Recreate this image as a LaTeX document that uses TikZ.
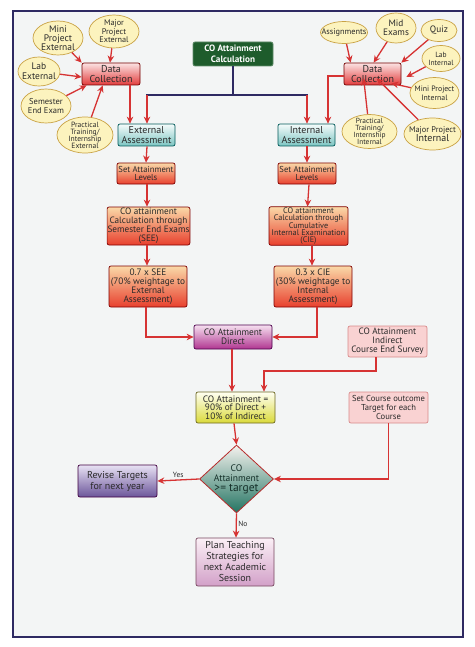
\documentclass[tikz,border=0pt]{standalone}
\usepackage{fontspec}
\setmainfont{PT Sans}
\usetikzlibrary{shapes.geometric,arrows.meta}
\definecolor{bgc}{HTML}{F3F5F5}
\definecolor{framec}{HTML}{2E2A62}
\definecolor{arrc}{HTML}{D63333}
\definecolor{hdrc}{HTML}{1E5C2C}
\definecolor{ellfill}{HTML}{FCF3BE}
\definecolor{elldraw}{HTML}{C9A244}
\definecolor{txtc}{HTML}{2A2A2A}
\definecolor{dcT}{HTML}{FBE3E3}\definecolor{dcB}{HTML}{E23C3C}
\definecolor{asT}{HTML}{F5FBFB}\definecolor{asB}{HTML}{7CC5C2}
\definecolor{orT}{HTML}{FAD9A8}\definecolor{orB}{HTML}{E8402E}
\definecolor{drT}{HTML}{F6E0F0}\definecolor{drB}{HTML}{B03590}
\definecolor{eqT}{HTML}{FFFFF2}\definecolor{eqB}{HTML}{DADA3A}
\definecolor{pkF}{HTML}{F9D2D2}\definecolor{pkD}{HTML}{D88A8A}
\definecolor{dmT}{HTML}{F4F2EE}\definecolor{dmB}{HTML}{237462}
\definecolor{dmTxt}{HTML}{16302A}
\definecolor{rvT}{HTML}{E8E2F4}\definecolor{rvB}{HTML}{6B559A}
\definecolor{plT}{HTML}{FBF0F6}\definecolor{plB}{HTML}{D2A0C8}
\tikzset{
  arr/.style={draw=arrc, line width=1.3pt, -{Stealth[length=7pt,width=6.5pt]}},
  hdrln/.style={draw=framec, line width=1.3pt},
  ell/.style={ellipse, draw=elldraw, line width=0.7pt, fill=ellfill, inner sep=-12pt, align=center, text=txtc},
  bx/.style={rectangle, rounded corners=2pt, line width=0.7pt, inner sep=0.5pt, align=center, text=txtc},
  hdr/.style={bx, fill=hdrc, draw=hdrc!70!white, text=white, font=\bfseries\fontsize{9.2}{11}\selectfont},
  dcbox/.style={bx, top color=dcT, bottom color=dcB, draw=red!45!black, font=\fontsize{10}{10}\selectfont},
  asbox/.style={bx, top color=asT, bottom color=asB, draw=teal!70!black, font=\fontsize{10}{10}\selectfont},
  orbox/.style={bx, top color=orT, bottom color=orB, draw=red!50!black},
  dirbox/.style={bx, top color=drT, bottom color=drB, draw=violet!60!black, font=\fontsize{9.3}{8.8}\selectfont},
  eqbox/.style={bx, top color=eqT, bottom color=eqB, draw=olive!70!black, font=\fontsize{9.3}{8.5}\selectfont},
  pkbox/.style={bx, fill=pkF, draw=pkD},
  dia/.style={diamond, aspect=1.08, inner sep=-12pt, line width=0.8pt, top color=dmT, bottom color=dmB, draw=arrc!85!black, align=center, text=dmTxt, font=\fontsize{9.5}{10}\selectfont},
  rvbox/.style={bx, top color=rvT, bottom color=rvB, draw=violet!50!black, font=\fontsize{10}{11}\selectfont},
  plbox/.style={bx, top color=plT, bottom color=plB, draw=magenta!40!black, font=\fontsize{10}{11}\selectfont},
  lbl/.style={font=\fontsize{7.5}{8}\selectfont, text=txtc, inner sep=1.5pt}
}
\begin{document}
\begin{tikzpicture}[x=1pt,y=-1pt]
\path[use as bounding box, fill=white] (0,0) rectangle (474,647);
\draw[framec, line width=2.5pt, fill=bgc] (13,11) rectangle (463,637);

% header
\node[hdr, minimum width=80, minimum height=24] (calc) at (233,54) {CO Attainment\\Calculation};

% left data collection
\node[dcbox, minimum width=58, minimum height=22] (dcL) at (111,74) {Data\\Collection};
\node[ell, minimum width=50, minimum height=34, font=\fontsize{9.5}{9}\selectfont] (miniE) at (58,38) {Mini\\Project\\External};
\node[ell, minimum width=50, minimum height=33, font=\fontsize{8.2}{8.5}\selectfont] (majE) at (114,31.5) {Major\\Project\\External};
\node[ell, minimum width=42, minimum height=29, font=\fontsize{9.5}{10}\selectfont] (labE) at (39,71.5) {Lab\\External};
\node[ell, minimum width=50, minimum height=34, font=\fontsize{8.5}{9}\selectfont] (semE) at (46,106) {Semester\\End Exam};
\node[ell, minimum width=56, minimum height=36, font=\fontsize{7.6}{7}\selectfont] (prE) at (85,135) {Practical\\Training/\\Internship\\External};

% right data collection
\node[dcbox, minimum width=57, minimum height=22] (dcR) at (372.5,74) {Data\\Collection};
\node[ell, minimum width=47, minimum height=22, font=\fontsize{8.3}{8.5}\selectfont] (asg) at (344,32.5) {Assignments};
\node[ell, minimum width=40, minimum height=30, font=\fontsize{9.3}{9}\selectfont] (mid) at (396,28) {Mid\\Exams};
\node[ell, minimum width=36, minimum height=22, font=\fontsize{9.3}{9}\selectfont] (quiz) at (439,30.5) {Quiz};
\node[ell, minimum width=38, minimum height=26, font=\fontsize{7.5}{8}\selectfont] (labI) at (441,58.5) {Lab\\Internal};
\node[ell, minimum width=49, minimum height=31, font=\fontsize{7.8}{9}\selectfont] (miniI) at (434.5,93) {Mini Project\\Internal};
\node[ell, minimum width=57, minimum height=32, font=\fontsize{8.3}{9.5}\selectfont] (majI) at (432.5,134) {Major Project\\{\fontsize{10}{10}\selectfont Internal}};
\node[ell, minimum width=55, minimum height=34, font=\fontsize{7.4}{7}\selectfont] (prI) at (369.5,131.5) {Practical\\Training/\\Internship\\Internal};

% assessments
\node[asbox, minimum width=57, minimum height=22] (ext) at (146.5,135) {External\\Assessment};
\node[asbox, minimum width=57, minimum height=22] (int) at (306.5,135) {Internal\\Assessment};

\node[orbox, minimum width=58, minimum height=21, font=\fontsize{8.6}{8}\selectfont] (salL) at (146,173.5) {Set Attainment\\Levels};
\node[orbox, minimum width=58, minimum height=21, font=\fontsize{8.6}{8}\selectfont] (salR) at (307,173.5) {Set Attainment\\Levels};

\node[orbox, minimum width=79, minimum height=38, font=\fontsize{9.2}{9}\selectfont] (see) at (148.5,226) {CO attainment\\Calculation through\\Semester End Exams\\(SEE)};
\node[orbox, minimum width=79, minimum height=38, font=\fontsize{8.2}{7.1}\selectfont] (cie) at (308.5,226) {CO attainment\\Calculation through\\Cumulative\\Internal Examination\\(CIE)};

\node[orbox, minimum width=78, minimum height=41, font=\fontsize{9.3}{9}\selectfont] (wsee) at (148,286.5) {0.7 x SEE\\(70\% weightage to\\External\\Assessment)};
\node[orbox, minimum width=78, minimum height=41, font=\fontsize{9.3}{9}\selectfont] (wcie) at (313,286.5) {0.3 x CIE\\(30\% weightage to\\Internal\\Assessment)};

\node[dirbox, minimum width=78, minimum height=24] (dir) at (233,337) {CO Attainment\\Direct};
\node[pkbox, minimum width=79, minimum height=31, font=\fontsize{9.2}{9}\selectfont] (ind) at (387.5,341.5) {CO Attainment\\Indirect\\Course End Survey};

\node[eqbox, minimum width=79, minimum height=31] (eq) at (235.5,407.5) {CO Attainment =\\90\% of Direct +\\10\% of Indirect};
\node[pkbox, minimum width=79, minimum height=31, font=\fontsize{8.6}{9}\selectfont] (tgt) at (388.5,407.5) {Set Course outcome\\Target for each\\Course};

\node[dia, minimum width=74, minimum height=68] (dec) at (236.5,479) {CO\\Attainment\\{\fontsize{11.5}{11}\selectfont >= target}};

\node[rvbox, minimum width=79, minimum height=32] (rev) at (117.5,481) {Revise Targets\\for next year};
\node[plbox, minimum width=78, minimum height=48] (plan) at (235,562) {Plan Teaching\\Strategies for\\next Academic\\Session};

% connectors top
\coordinate (jc) at (233,95);
\coordinate (jL) at (147,95);
\coordinate (jR) at (307,95);
\draw[hdrln] (calc.south) -- (jc);
\draw[hdrln, line cap=rect] (jL) -- (jR);
\draw[arr] (jL) -- ([xshift=0.5]ext.north);
\draw[arr] (jR) -- ([xshift=0.5]int.north);
\draw[arr] ([xshift=19]dcL.south) -- ([xshift=-16.5]ext.north);
\draw[arr] ([yshift=-2]dcR.west) -| ([xshift=21.5]int.north);

% ellipses into data collection
\draw[arr] (miniE) -- (dcL.north west);
\draw[arr] (majE) -- ([xshift=-1]dcL.north);
\draw[arr] (labE) -- ([yshift=-3]dcL.west);
\draw[arr] (semE) -- ([xshift=5]dcL.south west);
\draw[arr] (prE) -- ([xshift=21]dcL.south west);

\draw[arr] (asg) -- ([xshift=7]dcR.north west);
\draw[arr] (mid) -- ([xshift=30]dcR.north west);
\draw[arr] (quiz) -- (dcR.north east);
\draw[arr] (labI) -- ([shift={(5,3)}]dcR.east);
\draw[arr] (miniI) -- ([shift={(-10,-2)}]dcR.south east);
\draw[arr] (majI) -- ([shift={(33,-7)}]dcR.south west);
\draw[arr] (prI) -- ([shift={(20,-7)}]dcR.south west);

% columns
\draw[arr] ([xshift=0.5]ext.south) -- (salL.north);
\draw[arr] ([xshift=0.5]int.south) -- (salR.north);
\draw[arr] ([xshift=1]salL.south) -- ([xshift=-1.5]see.north);
\draw[arr] ([xshift=2]salR.south) -- ([xshift=0.5]see.north -| salR.south);
\draw[arr] ([xshift=-1.5]see.south) -- ([xshift=-1]wsee.north);
\draw[arr] ([xshift=3.5]cie.south) -- ([xshift=-1]wcie.north);

\draw[arr] ([xshift=-2]wsee.south) |- (dir.west);
\draw[arr] ([xshift=4]wcie.south) |- (dir.east);

\draw[arr] ([xshift=-1]dir.south) -- ([xshift=-3.5]eq.north);
\draw[arr] ([xshift=-11.5]ind.south) |- (264,371) -- ([xshift=28.5]eq.north);

\draw[arr] ([xshift=-1.5]eq.south) -- (dec.north);
\draw[arr] (tgt.south) |- (dec.east);

\draw[arr] (dec.west) -- node[lbl, above] {Yes} (rev.east);
\draw[arr] (dec.south) -- node[lbl, right, pos=0.45] {No} ([xshift=1]plan.north);
\end{tikzpicture}
\end{document}
